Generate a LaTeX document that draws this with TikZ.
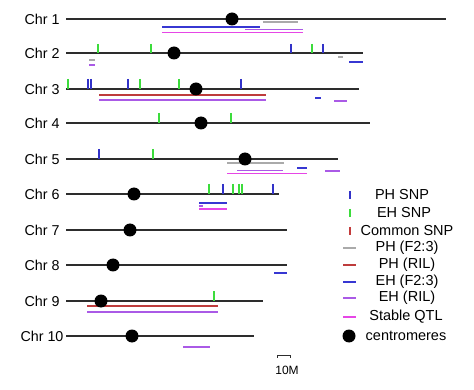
\documentclass[tikz,border=0pt]{standalone}
\usepackage{fontspec}
\setmainfont{Liberation Sans}
\definecolor{chrgray}{RGB}{45,45,45}
\definecolor{snpblue}{RGB}{50,50,200}
\definecolor{snpgreen}{RGB}{60,220,60}
\definecolor{snpred}{RGB}{195,60,60}
\definecolor{qgrey}{RGB}{170,170,170}
\definecolor{qred}{RGB}{190,60,60}
\definecolor{qblue}{RGB}{55,55,210}
\definecolor{qpurple}{RGB}{170,90,230}
\definecolor{qmag}{RGB}{230,70,230}
\tikzset{
  chrline/.style={draw=chrgray, line width=1.3pt},
  snptick/.style={line width=1.3pt},
  qtl/.style={line width=1.4pt},
  cen/.style={circle, fill=black, minimum size=13pt, inner sep=0pt},
  chrlbl/.style={font=\fontsize{14.3}{16}\selectfont, anchor=center},
  leglbl/.style={font=\fontsize{14.5}{16}\selectfont, anchor=center},
}
\begin{document}
\begin{tikzpicture}[x=1pt,y=-1pt]
\useasboundingbox (0,0) rectangle (474,390);
% chromosomes: y, end, centromere
\foreach \n/\y/\e/\c in {1/19/446/232, 2/53/363/174, 3/89/359/196, 4/123/370/201, 5/159/338/245, 6/194/279/134, 7/230/287/130, 8/265/287/113, 9/301/263/101, 10/336/254/132}{
  \node[chrlbl] (lab\n) at (42,\y) {Chr \n};
  \coordinate (s\n) at (66,\y);
  \coordinate (e\n) at (\e,\y);
  \draw[chrline] (s\n) -- (e\n);
}
% Chr 1 QTL
\draw[qtl, qgrey] (263,22) -- (298,22);
\draw[qtl, qblue] (162,27) -- (260,27);
\draw[qtl, qpurple] (245,29.5) -- (303,29.5);
\draw[qtl, qmag] (162,32.5) -- (303,32.5);
% Chr 2
\foreach \x in {98,151,312} \draw[snptick, snpgreen] (\x,44) -- (\x,53);
\foreach \x in {291,323} \draw[snptick, snpblue] (\x,44) -- (\x,53);
\draw[qtl, qgrey] (89,60) -- (95,60);
\draw[qtl, qpurple] (89,65) -- (95,65);
\draw[qtl, qgrey] (338,57) -- (343,57);
\draw[qtl, qblue] (349,62) -- (363,62);
% Chr 3
\foreach \x in {68,140,179} \draw[snptick, snpgreen] (\x,79) -- (\x,89);
\foreach \x in {88,91,128,241} \draw[snptick, snpblue] (\x,79) -- (\x,89);
\draw[qtl, qred] (99,95) -- (266,95);
\draw[qtl, qpurple] (99,100) -- (266,100);
\draw[qtl, qblue] (315,98) -- (321,98);
\draw[qtl, qpurple] (334,101) -- (347,101);
% Chr 4
\foreach \x in {159,231} \draw[snptick, snpgreen] (\x,113) -- (\x,123);
% Chr 5
\draw[snptick, snpblue] (99,149) -- (99,159);
\draw[snptick, snpgreen] (153,149) -- (153,159);
\draw[qtl, qgrey] (227,163) -- (284,163);
\draw[qtl, qblue] (297,168) -- (307,168);
\draw[qtl, qpurple] (237,170.5) -- (283,170.5);
\draw[qtl, qpurple] (325,171) -- (340,171);
\draw[qtl, qmag] (227,173.5) -- (307,173.5);
% Chr 6
\foreach \x in {209,233,239,242} \draw[snptick, snpgreen] (\x,184) -- (\x,194);
\foreach \x in {223,273} \draw[snptick, snpblue] (\x,184) -- (\x,194);
\draw[qtl, qblue] (199,203) -- (227,203);
\draw[qtl, qpurple] (199,206) -- (203,206);
\draw[qtl, qmag] (199,209) -- (227,209);
% Chr 8
\draw[qtl, qblue] (274,273) -- (287,273);
% Chr 9
\draw[snptick, snpgreen] (214,291) -- (214,301);
\draw[qtl, qred] (87,306) -- (218,306);
\draw[qtl, qpurple] (87,312) -- (218,312);
% Chr 10
\draw[qtl, qpurple] (183,347) -- (210,347);
% centromeres
\foreach \n/\y/\c in {1/19/232, 2/53/174, 3/89/196, 4/123/201, 5/159/245, 6/194/134, 7/230/130, 8/265/113, 9/301/101, 10/336/132}{
  \node[cen] (cen\n) at (\c,\y) {};
}
% legend
\draw[snptick, snpblue] (350,191) -- (350,199);
\node[leglbl] (l1) at (402,195) {PH SNP};
\draw[snptick, snpgreen] (350,209) -- (350,217);
\node[leglbl] (l2) at (404,213) {EH SNP};
\draw[snptick, snpred] (350,227) -- (350,235);
\node[leglbl] (l3) at (407,231) {Common SNP};
\draw[qtl, qgrey] (343,248) -- (356,248);
\node[leglbl] (l4) at (407,248) {PH (F2:3)};
\draw[qtl, qred] (343,265) -- (356,265);
\node[leglbl] (l5) at (407,265) {PH (RIL)};
\draw[qtl, qblue] (343,282) -- (356,282);
\node[leglbl] (l6) at (407,282) {EH (F2:3)};
\draw[qtl, qpurple] (343,298) -- (356,298);
\node[leglbl] (l7) at (407,298) {EH (RIL)};
\draw[qtl, qmag] (343,317) -- (356,317);
\node[leglbl] (l8) at (406,317) {Stable QTL};
\node[cen] (lcen) at (349,336) {};
\node[leglbl] (l9) at (406,336) {centromeres};
% scale bar
\coordinate (sb1) at (277,355);
\coordinate (sb2) at (290,355);
\draw[line width=1pt, chrgray] ([yshift=-2.5pt]sb1) -- (sb1) -- (sb2) -- ([yshift=-2.5pt]sb2);
\node[font=\fontsize{12}{14}\selectfont] (sbl) at (287,370) {10M};
\end{tikzpicture}
\end{document}
